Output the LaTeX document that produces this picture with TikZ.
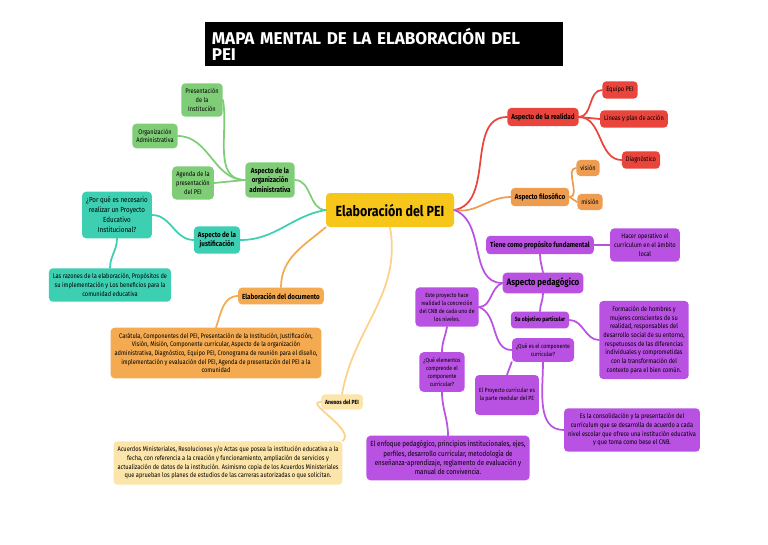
\documentclass[tikz,border=0pt]{standalone}
\usepackage{fontspec}
\setmainfont{Fira Sans}[FakeStretch=0.85]
\newfontfamily\titlefont{Fira Sans}
\begin{document}
\begin{tikzpicture}[x=0.75pt,y=-0.75pt,
 bx/.style={rounded corners=3pt,align=center,inner xsep=3pt,inner ysep=4pt,font=\fontsize{5}{6.5}\selectfont,text=black},
 gr/.style={bx,fill=gcol},
 tl/.style={bx,fill=tcol},
 org/.style={bx,fill=ocol},
 ly/.style={bx,fill=ycol},
 rd/.style={bx,fill=rcol},
 fo/.style={bx,fill=fcol},
 pu/.style={bx,fill=pcol},
 b/.style={font=\fontsize{5.5}{7}\selectfont\bfseries},
 c/.style={line width=1.3pt,line cap=round}]
\definecolor{gcol}{HTML}{80CD78}
\definecolor{tcol}{HTML}{3DCFB2}
\definecolor{ocol}{HTML}{F3AA50}
\definecolor{ycol}{HTML}{FCE5AA}
\definecolor{rcol}{HTML}{E9453D}
\definecolor{fcol}{HTML}{EE9C50}
\definecolor{pcol}{HTML}{B952E2}
\definecolor{ccol}{HTML}{F6C61A}
\useasboundingbox[fill=white] (0,0) rectangle (768,544);
\node[fill=black,minimum width=358*0.75pt,minimum height=44*0.75pt,anchor=north west,text width=345*0.75pt,align=left,font=\titlefont\fontsize{12.8}{12.5}\selectfont\bfseries,inner sep=3.5pt,text=white] (title) at (205,22) {MAPA MENTAL DE LA ELABORACIÓN DEL\\PEI};
\node[bx,fill=ccol,font=\fontsize{11}{12}\selectfont\bfseries,minimum width=128*0.75pt,minimum height=34*0.75pt] (c) at (390,210) {Elaboración del PEI};
% green
\node[gr,b] (org) at (270,180) {Aspecto de la\\organización\\administrativa};
\node[gr] (pres) at (202,100) {Presentación\\de la\\Institución};
\node[gr] (oa) at (155,136) {Organización\\Administrativa};
\node[gr] (ag) at (193,183) {Agenda de la\\presentación\\del PEI};
% teal
\node[tl,b] (jus) at (217,240) {Aspecto de la\\justificación};
\node[tl,font=\fontsize{5.5}{7.5}\selectfont] (por) at (117,215) {¿Por qué es necesario\\realizar un Proyecto\\Educativo\\Institucional?};
\node[tl] (raz) at (110,285) {Las razones de la elaboración, Propósitos de\\su implementación y Los beneficios para la\\comunidad educativa};
% orange
\node[org,b] (doc) at (281,296) {Elaboración del documento};
\node[org] (car) at (216,353) {Carátula, Componentes del PEI, Presentación de la Institución, Justificación,\\Visión, Misión, Componente curricular, Aspecto de la organización\\administrativa, Diagnóstico, Equipo PEI, Cronograma de reunión para el diseño,\\implementación y evaluación del PEI, Agenda de presentación del PEI a la\\comunidad};
\node[ly,font=\fontsize{4.5}{5}\selectfont\bfseries] (anx) at (342,402) {Anexos del PEI};
\node[ly] (acu) at (228,463) {Acuerdos Ministeriales, Resoluciones y/o Actas que posea la institución educativa a la\\fecha, con referencia a la creación y funcionamiento, ampliación de servicios y\\actualización de datos de la institución. Asimismo copia de los Acuerdos Ministeriales\\que aprueban los planes de estudios de las carreras autorizadas o que solicitan.};
% red
\node[rd,b] (rea) at (543,117) {Aspecto de la realidad};
\node[rd] (eq) at (620,90) {Equipo PEI};
\node[rd] (lin) at (634,119) {Líneas y plan de acción};
\node[rd] (dia) at (641,160) {Diagnóstico};
% filos
\node[fo,b] (fil) at (540,197) {Aspecto filosófico};
\node[fo] (vis) at (588,168) {visión};
\node[fo] (mis) at (590,202) {misión};
% purple
\node[pu,b] (tie) at (540,245) {Tiene como propósito fundamental};
\node[pu] (hac) at (645,245) {Hacer operativo el\\currículum en el ámbito\\local};
\node[pu,font=\fontsize{7}{8}\selectfont\bfseries] (ped) at (543,283) {Aspecto pedagógico};
\node[pu,font=\fontsize{4.5}{6}\selectfont] (est) at (447,307) {Este proyecto hace\\realidad la concreción\\del CNB de cada uno de\\los niveles.};
\node[pu,font=\fontsize{4.5}{6}\selectfont\bfseries] (obj) at (540,320) {Su objetivo particular};
\node[pu] (for) at (644,340) {Formación de hombres y\\mujeres conscientes de su\\realidad, responsables del\\desarrollo social de su entorno,\\respetuosos de las diferencias\\individuales y comprometidas\\con la transformación del\\contexto para el bien común.};
\node[pu,font=\fontsize{4.5}{6}\selectfont] (que) at (543,350) {¿Qué es el componente\\curricular?};
\node[pu,font=\fontsize{4.5}{6}\selectfont] (ele) at (442,372) {¿Qué elementos\\comprende el\\componente\\curricular?};
\node[pu,font=\fontsize{4.5}{6}\selectfont,minimum height=40*0.75pt] (pcu) at (507,395) {El Proyecto curricular es\\la parte medular del PE};
\node[pu] (con) at (632,430) {Es la consolidación y la presentación del\\currículum que se desarrolla de acuerdo a cada\\nivel escolar que ofrece una institución educativa\\y que toma como bese el CNB.};
\node[pu,font=\fontsize{5.5}{7}\selectfont] (enf) at (448,458) {El enfoque pedagógico, principios institucionales, ejes,\\perfiles, desarrollo curricular, metodología de\\enseñanza-aprendizaje, reglamento de evaluación y\\manual de convivencia.};
% connectors
\draw[c,gcol] (c.west) to[out=180,in=0] (org.east);
\draw[c,gcol] (org.west) to[out=180,in=-80] (pres.east);
\draw[c,gcol] (org.west) to[out=180,in=0] (oa.east);
\draw[c,gcol] (org.west) -- (ag.east);
\draw[c,tcol] (c.west) to[out=190,in=0] (jus.east);
\draw[c,tcol] (jus.west) to[out=180,in=0] (por.east);
\draw[c,tcol] (por.south) to[out=-90,in=90] (raz.north);
\draw[c,ocol] (c.south west) to[out=220,in=90] (doc.north);
\draw[c,ocol] (doc.west) to[out=180,in=70] (car.north);
\draw[c,ycol!80!orange] (c.south) to[out=-80,in=80] (anx.north);
\draw[c,ycol!80!orange] (anx.west) to[out=180,in=40] (acu.north east);
\draw[c,rcol] (c.east) to[out=10,in=180] (rea.west);
\draw[c,rcol] (rea.east) to[out=0,in=180] (eq.west);
\draw[c,rcol] (rea.east) -- (lin.west);
\draw[c,rcol] (rea.east) to[out=0,in=180] (dia.west);
\draw[c,fcol] (c.east) to[out=-10,in=180] (fil.west);
\draw[c,fcol] (fil.east) to[out=0,in=180] (vis.west);
\draw[c,fcol] (fil.east) -- (mis.west);
\draw[c,pcol] (c.east) to[out=-20,in=180] (ped.west);
\draw[c,pcol] (ped.north) to[out=100,in=-90] (tie.south);
\draw[c,pcol] (tie.east) -- (hac.west);
\draw[c,pcol] (ped.west) to[out=200,in=0] (est.east);
\draw[c,pcol] (ped.south) to[out=-90,in=90] (obj.north);
\draw[c,pcol] (obj.east) to[out=0,in=180] (for.west);
\draw[c,pcol] (est.east) to[out=-20,in=180] (que.west);
\draw[c,pcol] (est.south) to[out=-100,in=90] (ele.north);
\draw[c,pcol] (que.south west) -- (pcu.north);
\draw[c,pcol] (que.south) to[out=-90,in=180] (con.west);
\draw[c,pcol] (ele.south) to[out=-90,in=90] (enf.north);
\end{tikzpicture}
\end{document}
